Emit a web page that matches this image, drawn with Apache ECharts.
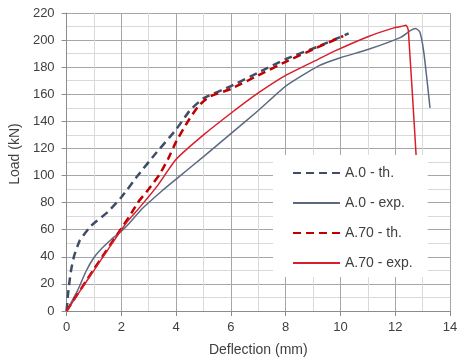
<!DOCTYPE html>
<html>
<head>
<meta charset="utf-8">
<script src="https://cdn.jsdelivr.net/npm/echarts@6/dist/echarts.min.js"></script>
<style>html,body{margin:0;padding:0;background:#fff}#c{width:474px;height:362px}</style>
</head>
<body>
<div id="c"></div>
<script>
// Data (deflection mm, load kN)
const seriesNames = ['A.0 - th.', 'A.0 - exp.', 'A.70 - th.', 'A.70 - exp.'];
const a0Th = [[0,0],[0.05,12],[0.12,24],[0.18,32],[0.28,41],[0.48,52],[0.9,63],[1.5,73],[2.0,84],[2.6,100],[3.2,115],[4.0,134],[4.5,148],[5.0,157],[6.0,166],[7.0,176],[8.0,186],[9.15,195],[10.3,205]];
const a0Exp = [[0,0],[0.4,15],[0.7,29],[1.0,39.5],[1.3,46.5],[1.64,53],[2.0,59],[2.3,65],[2.73,75],[3.5,89],[4.1,99],[5.0,114],[6.0,131],[7.0,148],[8.0,166],[9.2,181],[10.0,187],[11.0,193],[12.2,202],[12.55,207],[12.75,208.5],[12.9,206],[13.05,190],[13.27,150]];
const a70Th = [[0,0],[1.0,31],[2.0,61],[2.3,70],[2.6,80],[3.0,90],[3.4,101],[3.7,112],[4.0,125],[4.4,139],[4.8,151],[5.2,158],[6.0,164],[7.0,174],[8.0,184],[9.1,194],[10.1,203]];
const a70Exp = [[0,0],[0.5,15],[1.0,30],[1.5,45],[2.0,60],[2.3,68],[2.67,76.5],[3.3,92],[4.0,112],[5.0,130],[6.0,146],[7.0,161],[8.0,174],[9.2,186],[9.8,192],[11.0,202.5],[11.95,209],[12.2,210],[12.4,211],[12.48,207],[12.76,115.7],[12.9,70]];
const xTicks = {min: 0, max: 14, interval: 2};
const yTicks = {min: 0, max: 220, interval: 20};

const chart = echarts.init(document.getElementById('c'), null, {renderer: 'canvas'});
const textColor = '#404040';
const font = 'Liberation Sans, Arial, sans-serif';
function axisCommon() {
  return {
    axisLine: {show: true, lineStyle: {color: '#8c8c8c', width: 1}},
    axisTick: {show: true, length: 5, lineStyle: {color: '#8c8c8c'}},
    splitLine: {show: true, lineStyle: {color: '#a6a6a6', width: 1}},
    minorTick: {show: false, splitNumber: 2},
    minorSplitLine: {show: true, lineStyle: {color: '#d9d9d9', width: 1}},
    axisLabel: {color: textColor, fontSize: 13, fontFamily: font},
    nameTextStyle: {color: textColor, fontSize: 14, fontFamily: font}
  };
}
const xa = Object.assign(axisCommon(), {
  type: 'value', min: xTicks.min, max: xTicks.max, interval: xTicks.interval,
  name: 'Deflection (mm)', nameLocation: 'middle', nameGap: 32
});
xa.axisLabel.margin = 10;
const ya = Object.assign(axisCommon(), {
  type: 'value', min: yTicks.min, max: yTicks.max, interval: yTicks.interval,
  name: 'Load (kN)', nameLocation: 'middle', nameGap: 43
});
ya.nameTextStyle.padding = [0, 0, 0, 16];
ya.axisLabel.margin = 12;

function mk(name, data, color, dashed) {
  return {
    name: name, type: 'line', data: data, symbol: 'none', showSymbol: false,
    smooth: 0.15,
    lineStyle: {color: color, width: dashed ? 2.5 : 1.5, type: dashed ? [8, 5] : 'solid'},
    itemStyle: {color: color}, animation: false
  };
}

chart.setOption({
  animation: false,
  backgroundColor: '#fff',
  grid: {left: 65, right: 24, top: 13, bottom: 49},
  xAxis: xa,
  yAxis: ya,
  legend: {
    orient: 'vertical', left: 273, top: 155,
    padding: [11, 15, 7, 19], backgroundColor: '#fff',
    itemWidth: 47, itemHeight: 14, itemGap: 16,
    itemStyle: {color: 'rgba(0,0,0,0)', borderColor: 'rgba(0,0,0,0)', borderWidth: 0},
    textStyle: {color: textColor, fontSize: 14, fontFamily: font},
    data: seriesNames
  },
  series: [
    mk(seriesNames[0], a0Th, '#3f4e66', true),
    mk(seriesNames[1], a0Exp, '#5b6a80', false),
    mk(seriesNames[2], a70Th, '#c00000', true),
    mk(seriesNames[3], a70Exp, '#d81e2a', false)
  ]
});
</script>
</body>
</html>
